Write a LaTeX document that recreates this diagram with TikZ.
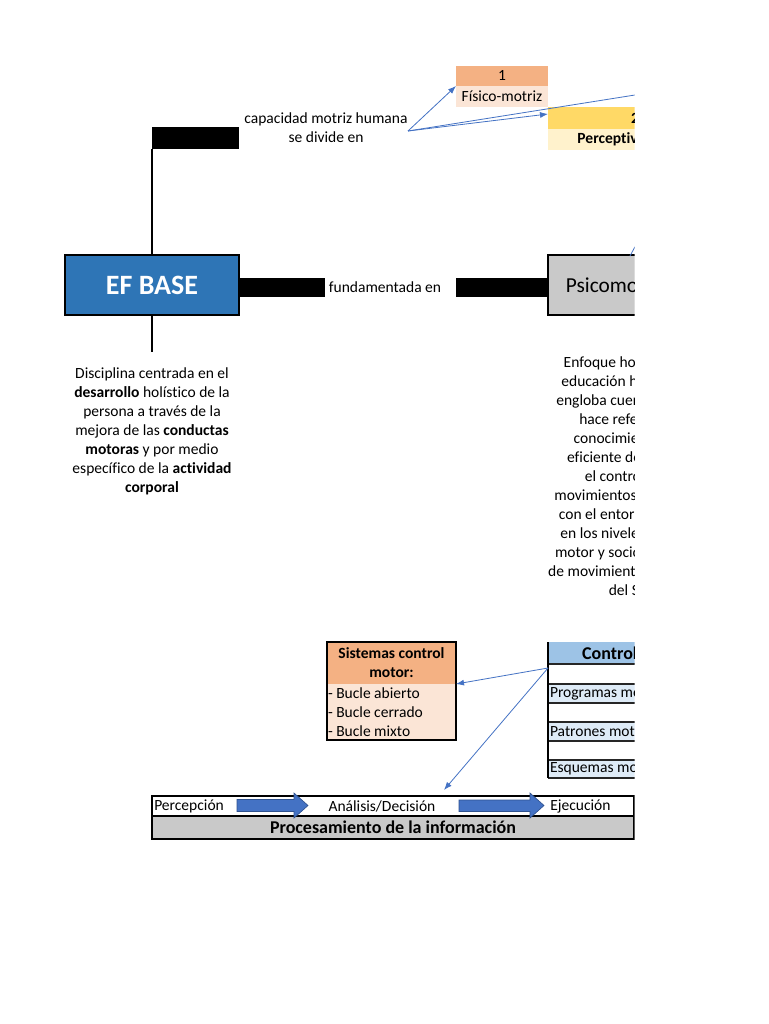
\documentclass[tikz,border=0pt]{standalone}
\usepackage{fontspec}
\setmainfont{Carlito}[Ligatures=NoCommon]
\usetikzlibrary{arrows.meta}
\definecolor{efblue}{HTML}{2E75B6}
\definecolor{psgray}{HTML}{C9C9C9}
\definecolor{orH}{HTML}{F4B183}
\definecolor{orB}{HTML}{FBE5D6}
\definecolor{yeH}{HTML}{FFD966}
\definecolor{yeB}{HTML}{FFF2CC}
\definecolor{blH}{HTML}{9DC3E6}
\definecolor{blB}{HTML}{DEEBF7}
\definecolor{arr}{HTML}{4472C4}
\definecolor{arrdark}{HTML}{2F528F}
\newcommand{\basefont}{\fontsize{11.65}{14.25}\selectfont}
\begin{document}
\begin{tikzpicture}[x=0.75pt,y=-0.75pt,
  txt/.style={font=\basefont, inner sep=0pt, align=center},
  cell/.style={inner sep=0pt, outer sep=0pt, anchor=north west, font=\basefont},
  box/.style 2 args={minimum width=#1*0.75pt, minimum height=#2*0.75pt},
  lrow/.style={cell, text width=172*0.75pt, inner xsep=1.5pt, align=flush left},
  conn/.style={draw=arr, line width=0.6pt, -{Latex[length=6pt,width=4.5pt]}},
  blockarrow/.style={fill=arr, draw=arrdark, line width=0.5pt},
  rule/.style={line width=1pt, black!85},
]
\path[use as bounding box] (0,0) rectangle (768,1024);
\fill[white] (0,0) rectangle (768,1024);
\begin{scope}
\clip (0,0) rectangle (634.5,1024);

% ---------- left column ----------
\node[cell, box={174}{60}, fill=efblue, draw=black, line width=1.2pt,
      font=\bfseries\fontsize{21}{24}\selectfont, text=white] (efbase) at (65,255) {EF BASE};
\node[cell, box={87}{22}, fill=black] (topbar) at (152,127) {};
\draw[line width=1.2pt] (topbar.south west) -- (efbase.north);
\coordinate (descTop) at (152,352);
\draw[line width=1.2pt] (efbase.south) -- (descTop);
\node[txt, anchor=north] (desc) at (152,367.5) {Disciplina centrada en el\\
\textbf{desarrollo} holístico de la\\
persona a través de la\\
mejora de las \textbf{conductas}\\
\textbf{motoras} y por medio\\
específico de la \textbf{actividad}\\
\textbf{corporal}};

% ---------- middle link ----------
\node[cell, box={86}{19}, fill=black] (barL) at (239,278) {};
\node[txt] (fund) at (385,287) {fundamentada en};
\node[cell, box={92}{19}, fill=black] (barR) at (456,278) {};
\node[cell, box={174}{60}, fill=psgray, draw=black, line width=1.2pt,
      font=\fontsize{16}{19}\selectfont] (psico) at (548,255) {Psicomotricidad};
\node[txt, anchor=north] (psdesc) at (635,356.5) {Enfoque holístico de la\\
educación humana que\\
engloba cuerpo y mente;\\
hace referencia al\\
conocimiento y uso\\
eficiente del cuerpo y\\
el control de los\\
movimientos y la relación\\
con el entorno, tanto en\\
en los niveles cognitivo,\\
motor y socioafectivo, así\\
de movimientos a través de\\
del SNC.};
\coordinate (psTop) at (630,256);
\coordinate (offR2) at (660,200);
\draw[draw=arr, line width=0.6pt] (psTop) -- (offR2);

% ---------- top ----------
\node[txt] (divide) at (326,128) {capacidad motriz humana\\se divide en};
\coordinate (split) at (408,131);
\node[cell, box={92}{20}, fill=orH] (fisH) at (456,66) {1};
\node[cell, box={92}{21}, fill=orB] (fisB) at (456,86) {Físico-motriz};
\node[cell, box={174}{22}, fill=yeH, font=\bfseries\basefont] (perH) at (548,107) {2};
\node[cell, box={174}{21}, fill=yeB, font=\bfseries\basefont] (perB) at (548,129) {Perceptivo-motriz};
\coordinate (offR) at (780,72);
\draw[conn] (split) -- (fisH.south west);
\draw[conn] (split) -- ([yshift=3pt]perH.west);
\draw[conn] (split) -- (offR);

% ---------- sistemas control motor ----------
\node[cell, box={129}{42}, fill=orH, align=center,
      font=\bfseries\basefont] (sisH) at (327,642) {Sistemas control\\motor:};
\node[cell, box={129}{56}, fill=orB, text width=127*0.75pt, inner xsep=0.75pt, align=flush left] (sisB) at (327,684)
  {- Bucle abierto\\- Bucle cerrado\\- Bucle mixto};
\draw[line width=0.8pt] (sisH.north west) rectangle (sisB.south east);

% ---------- control motor ----------
\node[cell, box={174}{22}, fill=blH, font=\bfseries\fontsize{13.5}{15}\selectfont] (ctrlH) at (548,642) {Control motor};
\node[lrow, box={174}{20}] (r1) at (548,664) {};
\node[lrow, box={174}{19}, fill=blB] (r2) at (548,684) {Programas motores};
\node[lrow, box={174}{19}] (r3) at (548,703) {};
\node[lrow, box={174}{19}, fill=blB] (r4) at (548,722) {Patrones motores};
\node[lrow, box={174}{19}] (r5) at (548,741) {};
\node[lrow, box={174}{18}, fill=blB] (r6) at (548,760) {Esquemas motores};
\foreach \r in {r1,r2,r3,r4,r5,r6} {\draw[rule] (\r.north west) -- (\r.north east);}
\draw[rule] (r6.south west) -- (r6.south east);
\draw[line width=1pt] (ctrlH.north west) -- (r6.south west);
\coordinate (ctrlpt) at (548,668);
\coordinate (procTarget) at (444,790);
\draw[conn] (ctrlpt) -- (sisB.north east);
\draw[conn] (ctrlpt) -- (procTarget);

% ---------- procesamiento ----------
\node[cell, box={482}{20}] (procTop) at (152,796) {};
\node[cell, box={482}{23}, fill=psgray, font=\bfseries\fontsize{13.5}{15}\selectfont] (procBot) at (152,816) {Procesamiento de la información};
\draw[line width=1pt] (procTop.north west) rectangle (procBot.south east);
\draw[line width=1pt] (procBot.north west) -- (procBot.north east);
\node[txt, anchor=west] (perc) at (154,806.5) {Percepción};
\node[txt] (anal) at (382,806.5) {Análisis/Decisión};
\node[txt, anchor=west] (ejec) at (550,806.5) {Ejecución};
\draw[blockarrow] (237,799.5) -- (294,799.5) -- (294,793) -- (308,805.5) -- (294,818) -- (294,811.5) -- (237,811.5) -- cycle;
\draw[blockarrow] (459,800) -- (530,800) -- (530,793) -- (544,805.5) -- (530,818) -- (530,811.5) -- (459,811.5) -- cycle;
\end{scope}
\end{tikzpicture}
\end{document}
